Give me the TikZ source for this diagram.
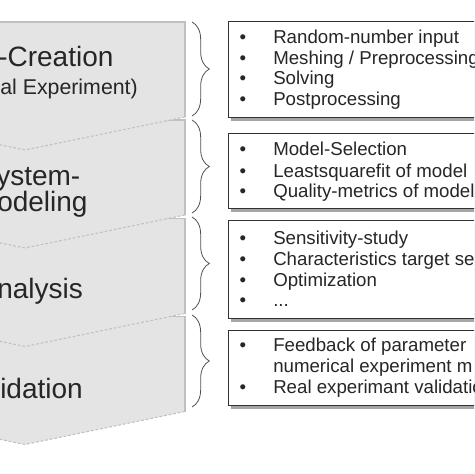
\documentclass[tikz,border=0pt]{standalone}
\usepackage{fontspec}
\setmainfont{Liberation Sans}
\usepackage{tikz}
\usetikzlibrary{decorations.pathreplacing, shadows}
\definecolor{cfill}{RGB}{228,228,228}
\definecolor{cedge}{RGB}{192,192,192}
\definecolor{bdark}{RGB}{50,50,50}
\definecolor{tdark}{RGB}{38,38,38}

\begin{document}
\begin{tikzpicture}[x=0.75pt,y=-0.75pt,font=\fontsize{14}{15}\selectfont,text=tdark,
  phase/.style={font=\fontsize{21}{24}\selectfont,anchor=base west,inner sep=0pt},
  subphase/.style={font=\fontsize{16}{18}\selectfont,anchor=base west,inner sep=0pt},
  item/.style={anchor=base west,inner sep=0pt},
  bullet/.style={anchor=base,inner sep=0pt},
  listbox/.style={draw=bdark,line width=0.9pt,fill=white,anchor=north west,
        minimum width=220pt,inner sep=0pt,
        drop shadow={shadow xshift=2pt,shadow yshift=-2.5pt,fill=gray!70,opacity=1}},
  curly/.style={draw=bdark!85,line width=0.6pt,decorate,
        decoration={brace,amplitude=13pt}}]
  \useasboundingbox (0,0) rectangle (474,474);
  \clip (0,0) rectangle (474,474);

  % chevrons, lowest first so each tip lies over the next one
  \foreach \t in {316.5,218.5,120,22}{
    \pgfmathsetmacro{\b}{\t+95}
    \pgfmathsetmacro{\p}{\t+128}
    \fill[cfill] (-135,\t) -- (185,\t) -- (185,\b) -- (25,\p) -- (-135,\b) -- cycle;
    \draw[cedge,line width=0.8pt] (-135,\t) -- (185,\t) -- (185,\b);
    \draw[cedge,line width=0.8pt,dash pattern=on 2pt off 1.5pt]
      (185,\b) -- (25,\p) -- (-135,\b);
  }

  \node[phase] (ph1) at (-2,67) {-Creation};
  \node[subphase] (ph1b) at (0,95) {al Experiment)};
  \node[phase] (ph2) at (-4,185) {ystem-};
  \node[phase] (ph2b) at (-3,211) {odeling};
  \node[phase] (ph3) at (-3,298) {nalysis};
  \node[phase] (ph4) at (0,398) {idation};

  % braces
  \foreach \a/\b [count=\i] in {22/116,120/213,217/310,315/407}{
    \coordinate (bt\i) at (192,\a);
    \coordinate (bb\i) at (192,\b);
    \draw[curly] (bt\i) -- (bb\i);
  }

  % boxes
  \foreach \y/\h [count=\i] in {21/72,133/56.25,220/73.5,330/56.25}
    \node[listbox,minimum height=\h pt] (box\i) at (228,\y) {};

  \foreach \y [count=\i] in {44,64.5,85,105.5,156,177,197,244,265,286,306,351,393}
    \node[bullet] (bul\i) at (243,\y) {•};

  \foreach \y/\txt [count=\i] in {
      44/{Random-number input},
      64.5/{Meshing / Preprocessing},
      85/{Solving},
      105.5/{Postprocessing},
      156/{Model-Selection},
      177/{Leastsquarefit of model},
      197/{Quality-metrics of model},
      244/{Sensitivity-study},
      265/{Characteristics target se},
      286/{Optimization},
      306/{...},
      351/{Feedback of parameter},
      372/{numerical experiment m},
      393/{Real experimant validation}}
    \node[item] (itm\i) at (273,\y) {\txt};
\end{tikzpicture}
\end{document}
